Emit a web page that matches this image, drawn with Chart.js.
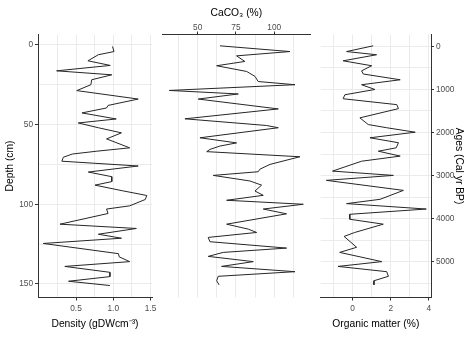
<!DOCTYPE html>
<html>
<head>
<meta charset="utf-8">
<script src="https://cdn.jsdelivr.net/npm/chart.js@4.4.1/dist/chart.umd.min.js"></script>
<style>
  body { margin: 0; background: #fff; }
  #wrap { position: relative; width: 474px; height: 338px; }
  #wrap canvas { position: absolute; left: 0; top: 0; }
</style>
</head>
<body>
<div id="wrap">
  <canvas id="densityChart" width="474" height="338"></canvas>
  <canvas id="caco3Chart" width="474" height="338"></canvas>
  <canvas id="omChart" width="474" height="338"></canvas>
</div>
<script>
// Dry bulk density (g DW / cm3) down the core
const densityDepth = [1, 4.2, 6.2, 10, 12.9, 16.3, 18.8, 21.9, 25, 28.7, 34, 38, 39.6, 42.7, 46.5, 49, 52, 55.2, 59, 64.6, 66.7, 68.5, 70.5, 73, 76, 79.8, 82.7, 85.8, 88, 91.5, 94.5, 97, 101, 103, 105.8, 112.5, 115.2, 118.8, 121.3, 124.6, 131, 133, 136, 139, 142.7, 145.4, 148.3, 151];
const density = [0.99, 1.01, 0.8, 0.66, 0.96, 0.24, 0.98, 0.71, 0.7, 0.51, 1.335, 0.93, 0.91, 0.58, 1.04, 0.53, 0.8, 1.11, 0.91, 1.22, 0.78, 0.45, 0.33, 0.31, 1.335, 0.665, 0.98, 0.98, 0.755, 1.12, 1.45, 1.43, 1.22, 0.91, 0.93, 0.285, 1.31, 0.8, 1.11, 0.06, 1.07, 1.08, 1.22, 0.35, 0.955, 0.955, 0.4, 0.955];

// Carbonate content (%)
const caco3Depth = [0.6, 4.2, 6.9, 10.4, 13.1, 16.7, 19.8, 23, 25, 28.6, 30.8, 34, 40.2, 46.4, 50.6, 52, 58.3, 61.5, 63.5, 65.6, 67, 70.2, 75, 78, 79.6, 81.9, 85.4, 88, 91.7, 94.4, 97.5, 100, 103, 106, 112.5, 115.6, 117.7, 120.8, 123.5, 127.5, 130.2, 132.7, 136, 139, 142.3, 145.2, 148, 150.6];
const caco3 = [64.5, 110.2, 75.4, 80.8, 62.4, 82, 87.4, 89.5, 113.5, 31.5, 76.5, 50.4, 102.6, 41.7, 95, 102.6, 51.5, 75.4, 64.5, 58, 55.9, 116.7, 97.2, 90.6, 89.5, 60.2, 84.1, 91.7, 87.4, 92.8, 68.9, 118.9, 92.8, 108, 68.9, 83, 88.5, 56.9, 58, 108, 66.7, 56.9, 86.3, 65.6, 113.5, 63.4, 62.4, 64];

// Organic matter (%)
const omDepth = [0.6, 4.2, 6.2, 10, 13.1, 16.3, 18.3, 21.9, 25, 28, 31.3, 33.8, 37.5, 40, 45.8, 50, 52, 54.8, 58.3, 61.4, 64.6, 66.7, 69.8, 73, 79.2, 81.9, 85, 91.3, 96.9, 99.6, 103, 106.3, 109.4, 112.5, 117.7, 120.2, 127, 130.2, 136, 139, 142.3, 145.2, 148, 150.6];
const organicMatter = [1.08, -0.32, 1.26, -0.5, 1.0, 0.47, 0.56, 2.5, 0.47, 1.17, -0.41, -0.5, 2.32, 2.41, 0.38, 0.82, 1.79, 3.29, 0.91, 2.41, 2.29, 1.35, 2.5, 0.47, -1.06, 2.14, -1.38, 2.67, 1.44, -0.32, 3.87, -0.15, -0.15, 1.61, 0.11, -0.45, 0.21, -0.68, 1.53, -0.77, 1.79, 1.88, 1.12, 1.12];

// grid positions and labelled ticks
const depthGrid = [0, 25, 50, 75, 100, 125, 150];
const depthTicks = [0, 50, 100, 150];
const densityGrid = [0.25, 0.5, 0.75, 1, 1.25, 1.5];
const densityTicks = [0.5, 1, 1.5];
const caco3Grid = [37.5, 50, 62.5, 75, 87.5, 100, 112.5];
const caco3Ticks = [50, 75, 100];
const omGrid = [-1, 0, 1, 2, 3, 4];
const omTicks = [0, 2, 4];
const ageGrid = [0, 500, 1000, 1500, 2000, 2500, 3000, 3500, 4000, 4500, 5000, 5500];
const ageTicks = [0, 1000, 2000, 3000, 4000, 5000];

const FONT = "'Liberation Sans', Arial, sans-serif";
const tickFont = { family: FONT, size: 8.3 };
const titleFont = { family: FONT, size: 10.3 };
const GRID = "#ebebeb";
const AXIS = "#333333";

function toPoints(values, depths) {
  return depths.map((d, i) => ({ x: values[i], y: d }));
}

function fixedTicks(values) {
  return (scale) => {
    scale.ticks = values.map((v) => ({ value: v }));
  };
}

// tick marks only where a label is drawn
function markColor(labelled) {
  return (ctx) => (ctx.tick && labelled.includes(ctx.tick.value) ? AXIS : "rgba(0,0,0,0)");
}

function axis(opts) {
  return {
    type: "linear",
    axis: opts.axis,
    position: opts.position,
    min: opts.min,
    max: opts.max,
    reverse: !!opts.reverse,
    display: opts.display !== false,
    afterBuildTicks: fixedTicks(opts.grid),
    afterFit: opts.fit,
    grid: {
      color: GRID,
      lineWidth: 1,
      tickLength: 3,
      tickWidth: 1,
      tickColor: markColor(opts.labels),
    },
    border: { display: !!opts.border, color: AXIS, width: 1 },
    ticks: {
      autoSkip: false,
      maxRotation: 0,
      padding: opts.tickPadding,
      color: "#4d4d4d",
      font: tickFont,
      callback: (v) => (opts.labels.includes(v) ? opts.format(v) : ""),
    },
    title: {
      display: true,
      text: opts.title,
      color: "#000",
      font: titleFont,
      padding: opts.titlePadding,
    },
  };
}

// shared depth scale; hidden on the two right-hand panels
function depthAxis(show) {
  return axis({
    axis: "y",
    position: "left",
    min: -6.5,
    max: 158.5,
    reverse: true,
    display: show,
    border: true,
    grid: depthGrid,
    labels: depthTicks,
    format: (v) => String(v),
    fit: show ? (s) => { s.width = 38; } : undefined,
    tickPadding: 2,
    title: "Depth (cm)",
    titlePadding: { top: 4, bottom: 4 },
  });
}

function profile(values, depths) {
  return {
    data: toPoints(values, depths),
    showLine: true,
    pointRadius: 0,
    borderColor: "#262626",
    borderWidth: 1,
    fill: false,
  };
}

const common = {
  responsive: false,
  animation: false,
  events: [],
  plugins: { legend: { display: false }, tooltip: { enabled: false } },
};

// Density panel
new Chart(document.getElementById("densityChart"), {
  type: "scatter",
  data: { datasets: [profile(density, densityDepth)] },
  options: {
    ...common,
    layout: { padding: { left: 0, top: 34.5, right: 322, bottom: 0 } },
    scales: {
      x: axis({
        axis: "x",
        position: "bottom",
        min: -0.01,
        max: 1.52,
        border: true,
        grid: densityGrid,
        labels: densityTicks,
        format: (v) => v.toFixed(1),
        fit: (s) => { s.height = 40.5; },
        tickPadding: 3,
        title: "Density (gDWcm⁻³)",
        titlePadding: { top: 4, bottom: 7.8 },
      }),
      y: depthAxis(true),
    },
  },
});

// CaCO3 panel, axis on top
new Chart(document.getElementById("caco3Chart"), {
  type: "scatter",
  data: { datasets: [profile(caco3, caco3Depth)] },
  options: {
    ...common,
    layout: { padding: { left: 162.7, top: 0, right: 164, bottom: 40.5 } },
    scales: {
      x: axis({
        axis: "x",
        position: "top",
        min: 27.2,
        max: 123.3,
        border: true,
        grid: caco3Grid,
        labels: caco3Ticks,
        format: (v) => String(v),
        fit: (s) => { s.height = 34.5; },
        tickPadding: -1,
        title: "CaCO₃ (%)",
        titlePadding: { top: 7.1, bottom: 4 },
      }),
      y: depthAxis(false),
    },
  },
});

// Organic matter panel with the age scale on the right
new Chart(document.getElementById("omChart"), {
  type: "scatter",
  data: { datasets: [profile(organicMatter, omDepth)] },
  options: {
    ...common,
    layout: { padding: { left: 320.7, top: 34.5, right: 0, bottom: 0 } },
    scales: {
      x: axis({
        axis: "x",
        position: "bottom",
        min: -1.68,
        max: 4.12,
        border: true,
        grid: omGrid,
        labels: omTicks,
        format: (v) => String(v),
        fit: (s) => { s.height = 40.5; },
        tickPadding: 3,
        title: "Organic matter (%)",
        titlePadding: { top: 4, bottom: 7.8 },
      }),
      y: depthAxis(false),
      age: axis({
        axis: "y",
        position: "right",
        min: -275,
        max: 5830,
        reverse: true,
        border: true,
        grid: ageGrid,
        labels: ageTicks,
        format: (v) => String(v),
        fit: (s) => { s.width = 43; },
        tickPadding: 2,
        title: "Ages (Cal yr BP)",
        titlePadding: { top: 8.5, bottom: 4 },
      }),
    },
  },
});
</script>
</body>
</html>
